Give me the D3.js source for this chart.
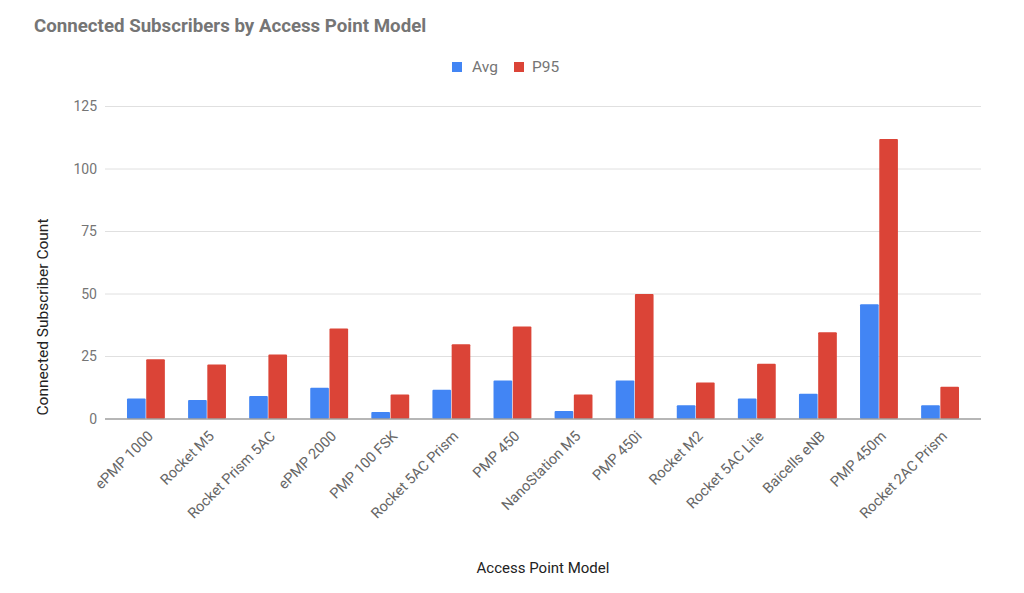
<!DOCTYPE html>
<html>
<head>
<meta charset="utf-8">
<script src="https://cdn.jsdelivr.net/npm/d3@7"></script>
<style>
  html, body { margin: 0; padding: 0; background: #fff; }
  svg { display: block; font-family: Roboto, "Noto Sans", sans-serif; }
</style>
</head>
<body>
<svg id="chart" width="1024" height="593"></svg>
<script>
const categories = ["ePMP 1000","Rocket M5","Rocket Prism 5AC","ePMP 2000","PMP 100 FSK","Rocket 5AC Prism","PMP 450","NanoStation M5","PMP 450i","Rocket M2","Rocket 5AC Lite","Baicells eNB","PMP 450m","Rocket 2AC Prism"];
const seriesNames = ["Avg", "P95"];
const avgValues = [8.2, 7.6, 9.2, 12.5, 2.8, 11.7, 15.4, 3.2, 15.4, 5.5, 8.2, 10.1, 45.9, 5.5];
const p95Values = [23.9, 21.8, 25.8, 36.2, 9.8, 29.9, 37.0, 9.8, 50.0, 14.6, 22.1, 34.7, 112.0, 12.9];
const yTicks = [0, 25, 50, 75, 100, 125];
const colors = ["#4285F4", "#DB4437"];

const svg = d3.select("#chart");
const plotLeft = 105, plotRight = 981, plotTop = 106.5, plotBottom = 419;

const x0 = d3.scaleBand().domain(categories).range([plotLeft, plotRight]).paddingInner(0.38).paddingOuter(0.36);
const x1 = d3.scaleBand().domain(seriesNames).range([0, x0.bandwidth()]).paddingInner(0.03);
const y = d3.scaleLinear().domain([0, 125]).range([plotBottom, plotTop]);

// gridlines
svg.append("g").selectAll("line").data(yTicks.filter(d => d !== 0)).join("line")
  .attr("x1", plotLeft).attr("x2", plotRight)
  .attr("y1", d => y(d)).attr("y2", d => y(d))
  .attr("stroke", "#e0e0e0").attr("stroke-width", 1);

// y tick labels
svg.append("g").selectAll("text").data(yTicks).join("text")
  .attr("x", 97).attr("y", d => y(d)).attr("dy", "0.35em")
  .attr("text-anchor", "end").attr("font-size", 14).attr("fill", "#757575")
  .text(d => d);

// bars
const data = categories.map((c, i) => ({ c, vals: [avgValues[i], p95Values[i]] }));
const groups = svg.append("g").selectAll("g").data(data).join("g")
  .attr("transform", d => `translate(${x0(d.c)},0)`);
groups.selectAll("rect").data(d => d.vals.map((v, j) => ({ v, s: seriesNames[j], j }))).join("rect")
  .attr("x", d => x1(d.s))
  .attr("width", x1.bandwidth())
  .attr("y", d => y(d.v))
  .attr("height", d => y(0) - y(d.v))
  .attr("rx", 1)
  .attr("fill", d => colors[d.j]);

// baseline
svg.append("line").attr("x1", plotLeft).attr("x2", plotRight).attr("y1", y(0)).attr("y2", y(0))
  .attr("stroke", "#9e9e9e").attr("stroke-width", 1.5);

// x labels
svg.append("g").selectAll("text").data(categories).join("text")
  .attr("transform", d => `translate(${x0(d) + x0.bandwidth() / 2 + 8},437) rotate(-45)`)
  .attr("text-anchor", "end").attr("font-size", 14.5).attr("fill", "#666")
  .text(d => d);

// title
svg.append("text").attr("x", 34).attr("y", 32)
  .attr("font-size", 18.7).attr("font-weight", "bold").attr("fill", "#757575")
  .text("Connected Subscribers by Access Point Model");

// legend
const legendX = [452, 514];
const legend = svg.append("g").selectAll("g").data(seriesNames).join("g")
  .attr("transform", (d, i) => `translate(${legendX[i]},62)`);
legend.append("rect").attr("width", 10).attr("height", 10).attr("fill", (d, i) => colors[i]);
legend.append("text").attr("x", (d, i) => i === 0 ? 20 : 18).attr("y", 5).attr("dy", "0.35em")
  .attr("font-size", 15.5).attr("fill", "#757575").text(d => d);

// axis titles
svg.append("text").attr("x", 543).attr("y", 573).attr("text-anchor", "middle")
  .attr("font-size", 15).attr("fill", "#222").text("Access Point Model");
svg.append("text").attr("transform", "translate(47.5,317) rotate(-90)").attr("text-anchor", "middle")
  .attr("font-size", 15.5).attr("fill", "#222").text("Connected Subscriber Count");
</script>
</body>
</html>
